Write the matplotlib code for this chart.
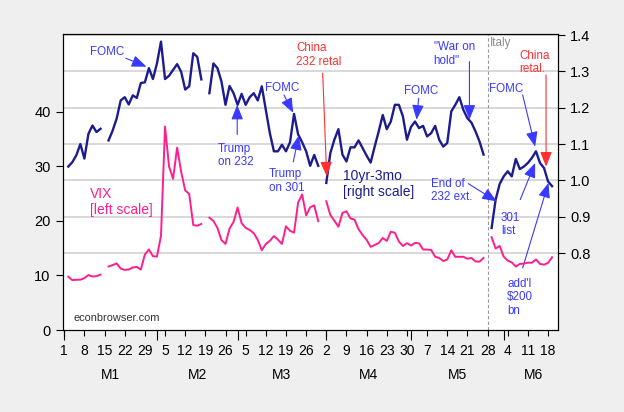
import numpy as np
import pandas as pd
import matplotlib
matplotlib.use("Agg")
import matplotlib.pyplot as plt
import matplotlib.transforms as mtransforms

plt.rcParams['font.family'] = ['Liberation Sans', 'DejaVu Sans']

nan = np.nan

# business days, Jan 1 - Jun 19 (holidays kept as gaps)
dates = pd.bdate_range('2018-01-01', '2018-06-19')

# 10yr-3mo spread, percentage points (right scale)
spread_jan = [nan, 1.038, 1.05, 1.069, 1.10, 1.06, 1.128, 1.151, 1.133, 1.142, nan,
              1.11, 1.137, 1.17, 1.22, 1.229, 1.209, 1.234, 1.227, 1.268, 1.27, 1.309, 1.279]
spread_feb = [1.322, 1.382, 1.279, 1.288, 1.304, 1.32, 1.299, 1.25, 1.259, 1.35, 1.34, 1.278,
              nan, 1.24, 1.322, 1.309, 1.272, 1.208, 1.26, 1.24]
spread_mar = [1.208, 1.238, 1.208, 1.229, 1.24, 1.22, 1.259, 1.194, 1.13, 1.08, 1.08, 1.098,
              1.08, 1.105, 1.183, 1.127, 1.105, 1.08, 1.04, 1.07, 1.04, nan]
spread_apr = [0.993, 1.075, 1.112, 1.141, 1.071, 1.052, 1.091, 1.091, 1.11, 1.089, 1.068,
              1.049, 1.093, 1.135, 1.18, 1.141, 1.162, 1.208, 1.208, 1.176, 1.112]
spread_may = [1.147, 1.162, 1.144, 1.15, 1.121, 1.13, 1.15, 1.112, 1.093, 1.103, 1.19, 1.208,
              1.229, 1.194, 1.171, 1.159, 1.135, 1.107, 1.071, nan, 0.869, 0.947, 0.99]
spread_jun = [1.011, 1.025, 1.011, 1.059, 1.031, 1.038, 1.048, 1.062, 1.08, 1.048, 1.034,
              0.997, 0.984]

# VIX (left scale)
vix_jan = [nan, 9.77, 9.15, 9.22, 9.22, 9.52, 10.08, 9.82, 9.88, 10.16, nan, 11.66, 11.91,
           12.22, 11.27, 11.03, 11.10, 11.47, 11.58, 11.08, 13.84, 14.79, 13.54]
vix_feb = [13.47, 17.31, 37.32, 29.98, 27.73, 33.46, 29.06, 25.61, 24.97, 19.26, 19.13, 19.46,
           nan, 20.60, 20.02, 18.72, 16.49, 15.80, 18.59, 19.85]
vix_mar = [22.47, 19.59, 18.73, 18.36, 17.76, 16.54, 14.64, 15.78, 16.35, 17.23, 16.59, 15.80,
           19.02, 18.20, 17.86, 23.34, 24.87, 21.03, 22.50, 22.87, 19.97, nan]
vix_apr = [23.62, 21.10, 20.06, 18.94, 21.49, 21.77, 20.47, 20.24, 18.49, 17.41, 16.56, 15.25,
           15.60, 15.96, 16.88, 16.34, 18.02, 17.84, 16.24, 15.41, 15.93]
vix_may = [15.49, 15.97, 15.90, 14.77, 14.75, 14.71, 13.42, 13.23, 12.65, 12.93, 14.63, 13.42,
           13.43, 13.42, 13.08, 13.22, 12.58, 12.53, 13.22, nan, 17.02, 14.94, 15.43]
vix_jun = [13.46, 12.74, 12.40, 11.64, 12.13, 12.18, 12.35, 12.34, 12.94, 12.12, 11.98,
           12.31, 13.35]

month_labels = ['M1', 'M2', 'M3', 'M4', 'M5', 'M6']

spread = np.array(spread_jan + spread_feb + spread_mar + spread_apr + spread_may + spread_jun)
vix = np.array(vix_jan + vix_feb + vix_mar + vix_apr + vix_may + vix_jun)
x = np.arange(len(dates))


def pos(d):
    return dates.get_loc(pd.Timestamp(d))


NAVY = '#1c1c8e'
PINK = '#ff1f8c'
BLUE = '#3a3aff'
RED = '#ff3030'

fig = plt.figure(figsize=(6.24, 4.12), dpi=100, facecolor='#efefef')
ax = fig.add_axes([0.101, 0.199, 0.7928, 0.7185])
ax.set_facecolor('white')
ax2 = ax.twinx()

# spread on ax (right ticks), VIX on ax2 (left ticks)
ax.yaxis.tick_right()
ax2.yaxis.tick_left()

ax.plot(x, spread, color=NAVY, lw=1.7, zorder=3)
ax2.plot(x, vix, color=PINK, lw=1.4)

ax.set_ylim(0.588, 1.403)
ax2.set_ylim(0, 54.3)
ax.set_xlim(-0.3, 122.4)
ax.set_yticks([0.8, 0.9, 1.0, 1.1, 1.2, 1.3, 1.4])
ax.set_yticklabels(['0.8', '0.9', '1.0', '1.1', '1.2', '1.3', '1.4'])
ax2.set_yticks([0, 10, 20, 30, 40])
ax.yaxis.grid(True, color='#d6d6d6', lw=1.3)
ax.set_axisbelow(True)

for a in (ax, ax2):
    for s in a.spines.values():
        s.set_color('black')
        s.set_linewidth(0.8)
ax.tick_params(axis='y', labelsize=10.5, length=5, width=0.8, pad=4)
ax2.tick_params(axis='y', labelsize=10.5, length=5, width=0.8, pad=4)

# x axis: month starts (long ticks), Mondays labelled
month_starts = [i for i in range(len(dates)) if i == 0 or dates[i].month != dates[i - 1].month]
mondays = [i for i in range(len(dates)) if dates[i].weekday() == 0]
ax.xaxis.remove_overlapping_locs = False
ax.set_xticks(month_starts)
ax.set_xticklabels([''] * len(month_starts))
ax.set_xticks(mondays, minor=True)
ax.set_xticklabels([str(dates[i].day) for i in mondays], minor=True)
ax.tick_params(axis='x', which='major', length=7, width=0.8)
ax.tick_params(axis='x', which='minor', length=4, width=0.8, labelsize=10, pad=6)

# month labels
trans = mtransforms.blended_transform_factory(ax.transData, ax.transAxes)
bounds = month_starts + [len(dates) + 2]
for k, lab in enumerate(month_labels):
    cx = (bounds[k] + bounds[k + 1]) / 2
    ax.text(cx, -0.152, lab, transform=trans, ha='center', va='center', fontsize=10)

# Italy line
ax.axvline(pos('2018-05-28'), color='#999999', lw=0.8, ls=(0, (3, 2)), zorder=2)
ax.text(105.5, 1.379, 'Italy', color='#8c8c8c', fontsize=8.4, va='center')

arrow_kw = dict(arrowstyle='-|>,head_length=0.75,head_width=0.3', lw=0.8,
                shrinkA=0, shrinkB=0, mutation_scale=12)


def note(text, xy_text, color, ha='left', size=8.4, tail=None, tip=None):
    ax.text(xy_text[0], xy_text[1], text, color=color, fontsize=size, ha=ha,
            va='center', linespacing=1.15, zorder=5)
    if tail is not None:
        ax.annotate('', xy=tip, xytext=tail,
                    arrowprops=dict(color=color, **arrow_kw), zorder=5)


note('FOMC', (10.6, 1.354), BLUE, ha='center', tail=(15.3, 1.336), tip=(20.4, 1.313))
note('Trump\non 232', (38.1, 1.069), BLUE, tail=(42.9, 1.126), tip=(42.9, 1.208))
note('FOMC', (54.0, 1.255), BLUE, ha='center', tail=(54.5, 1.235), tip=(56.8, 1.186))
note('Trump\non 301', (50.8, 0.998), BLUE, tail=(56.8, 1.051), tip=(58.2, 1.124))
note('China\n232 retal', (57.5, 1.345), RED, tail=(64.1, 1.295), tip=(65.1, 1.011))
note('10yr-3mo\n[right scale]', (69.1, 0.99), NAVY, size=10)
note('FOMC', (88.4, 1.246), BLUE, ha='center', tail=(87.9, 1.226), tip=(87.4, 1.167))
note('"War on\nhold"', (91.6, 1.348), BLUE, tail=(100.5, 1.327), tip=(100.5, 1.167))
note('China\nretal.', (112.9, 1.324), RED, tail=(119.5, 1.29), tip=(119.5, 1.038))
note('FOMC', (109.6, 1.252), BLUE, ha='center', tail=(113.7, 1.235), tip=(116.8, 1.093))
note('End of\n232 ext.', (91.0, 0.972), BLUE, tail=(100.2, 0.991), tip=(107.3, 0.942))
note('301\nlist', (108.3, 0.878), BLUE, tail=(113.1, 0.947), tip=(116.8, 1.048))
note("add'l\n$200\nbn", (109.9, 0.678), BLUE, tail=(113.7, 0.759), tip=(120.1, 0.993))
note('VIX\n[left scale]', (6.4, 0.94), PINK, size=10)

ax.text(0.022, 0.04, 'econbrowser.com', transform=ax.transAxes, fontsize=7.9,
        color='#333333', va='center')

fig.savefig('out.png', dpi=100, facecolor=fig.get_facecolor())
